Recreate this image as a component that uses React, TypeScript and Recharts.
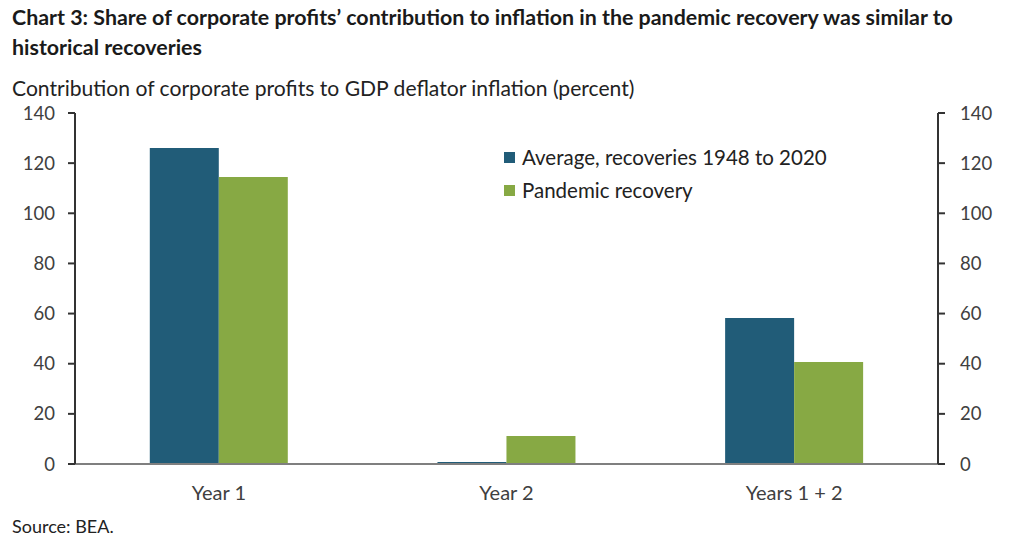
import React from "react";
import { BarChart, Bar, XAxis, YAxis } from "recharts";

const categories = ["Year 1", "Year 2", "Years 1 + 2"];
const averageRecoveries = [126, 0.8, 58.2];
const pandemicRecovery = [114.5, 11.2, 40.7];
const yTicks = [0, 20, 40, 60, 80, 100, 120, 140];

const data = categories.map((name, i) => ({
  name,
  average: averageRecoveries[i],
  pandemic: pandemicRecovery[i],
}));

const FONT = "Lato, 'Noto Sans', sans-serif";
const BLUE = "#215C78";
const GREEN = "#87A944";
const TEXT = "#404040";
const AXIS = { stroke: "#333333", strokeWidth: 2 };

export default function App() {
  return (
    <div
      style={{
        position: "absolute",
        left: 0,
        top: 0,
        width: 1024,
        height: 556,
        background: "#fff",
        fontFamily: FONT,
        color: "#000",
      }}
    >
      <div
        style={{
          position: "absolute",
          left: 12,
          top: 2,
          width: 1010,
          fontSize: 21.4,
          fontWeight: 700,
          lineHeight: "30px",
          color: "#1a1a1a",
          whiteSpace: "nowrap",
        }}
      >
        Chart 3: Share of corporate profits’ contribution to inflation in the pandemic recovery was similar to
        <br />
        historical recoveries
      </div>
      <div
        style={{
          position: "absolute",
          left: 12,
          top: 75,
          fontSize: 21.1,
          color: "#222",
          whiteSpace: "nowrap",
        }}
      >
        Contribution of corporate profits to GDP deflator inflation (percent)
      </div>
      <BarChart
        width={1024}
        height={556}
        data={data}
        margin={{ top: 113, right: 0, bottom: 42, left: 0 }}
        barCategoryGap="26%"
        barGap={0}
      >
        <XAxis
          dataKey="name"
          xAxisId="x"
          tickLine={false}
          axisLine={{ stroke: "#7f7f7f", strokeWidth: 2 }}
          tickSize={0}
          tickMargin={22}
          height={50}
          tick={{ fill: TEXT, fontSize: 20, fontFamily: FONT }}
        />
        <YAxis
          yAxisId="left"
          orientation="left"
          domain={[0, 140]}
          ticks={yTicks}
          width={75}
          axisLine={AXIS}
          tickLine={AXIS}
          tickSize={7}
          tickMargin={13}
          interval={0}
          tick={{ fill: TEXT, fontSize: 18.5, fontFamily: FONT }}
        />
        <YAxis
          yAxisId="right"
          orientation="right"
          domain={[0, 140]}
          ticks={yTicks}
          width={86}
          axisLine={AXIS}
          tickLine={AXIS}
          tickSize={7}
          tickMargin={15}
          interval={0}
          tick={{ fill: TEXT, fontSize: 18.5, fontFamily: FONT }}
        />
        <Bar
          dataKey="average"
          xAxisId="x"
          yAxisId="left"
          fill={BLUE}
          isAnimationActive={false}
        />
        <Bar
          dataKey="pandemic"
          xAxisId="x"
          yAxisId="right"
          fill={GREEN}
          isAnimationActive={false}
        />
      </BarChart>
      <div style={{ position: "absolute", left: 504, top: 144, fontSize: 20.5, color: "#222" }}>
        <div style={{ display: "flex", alignItems: "center", height: 26, whiteSpace: "nowrap" }}>
          <span style={{ width: 11, height: 11, background: BLUE, marginRight: 7, flex: "none" }} />
          Average, recoveries 1948 to 2020
        </div>
        <div style={{ display: "flex", alignItems: "center", height: 26, marginTop: 7, whiteSpace: "nowrap" }}>
          <span style={{ width: 11, height: 11, background: GREEN, marginRight: 7, flex: "none" }} />
          Pandemic recovery
        </div>
      </div>
      <div style={{ position: "absolute", left: 12, top: 515, fontSize: 18, color: "#222" }}>
        Source: BEA.
      </div>
    </div>
  );
}
